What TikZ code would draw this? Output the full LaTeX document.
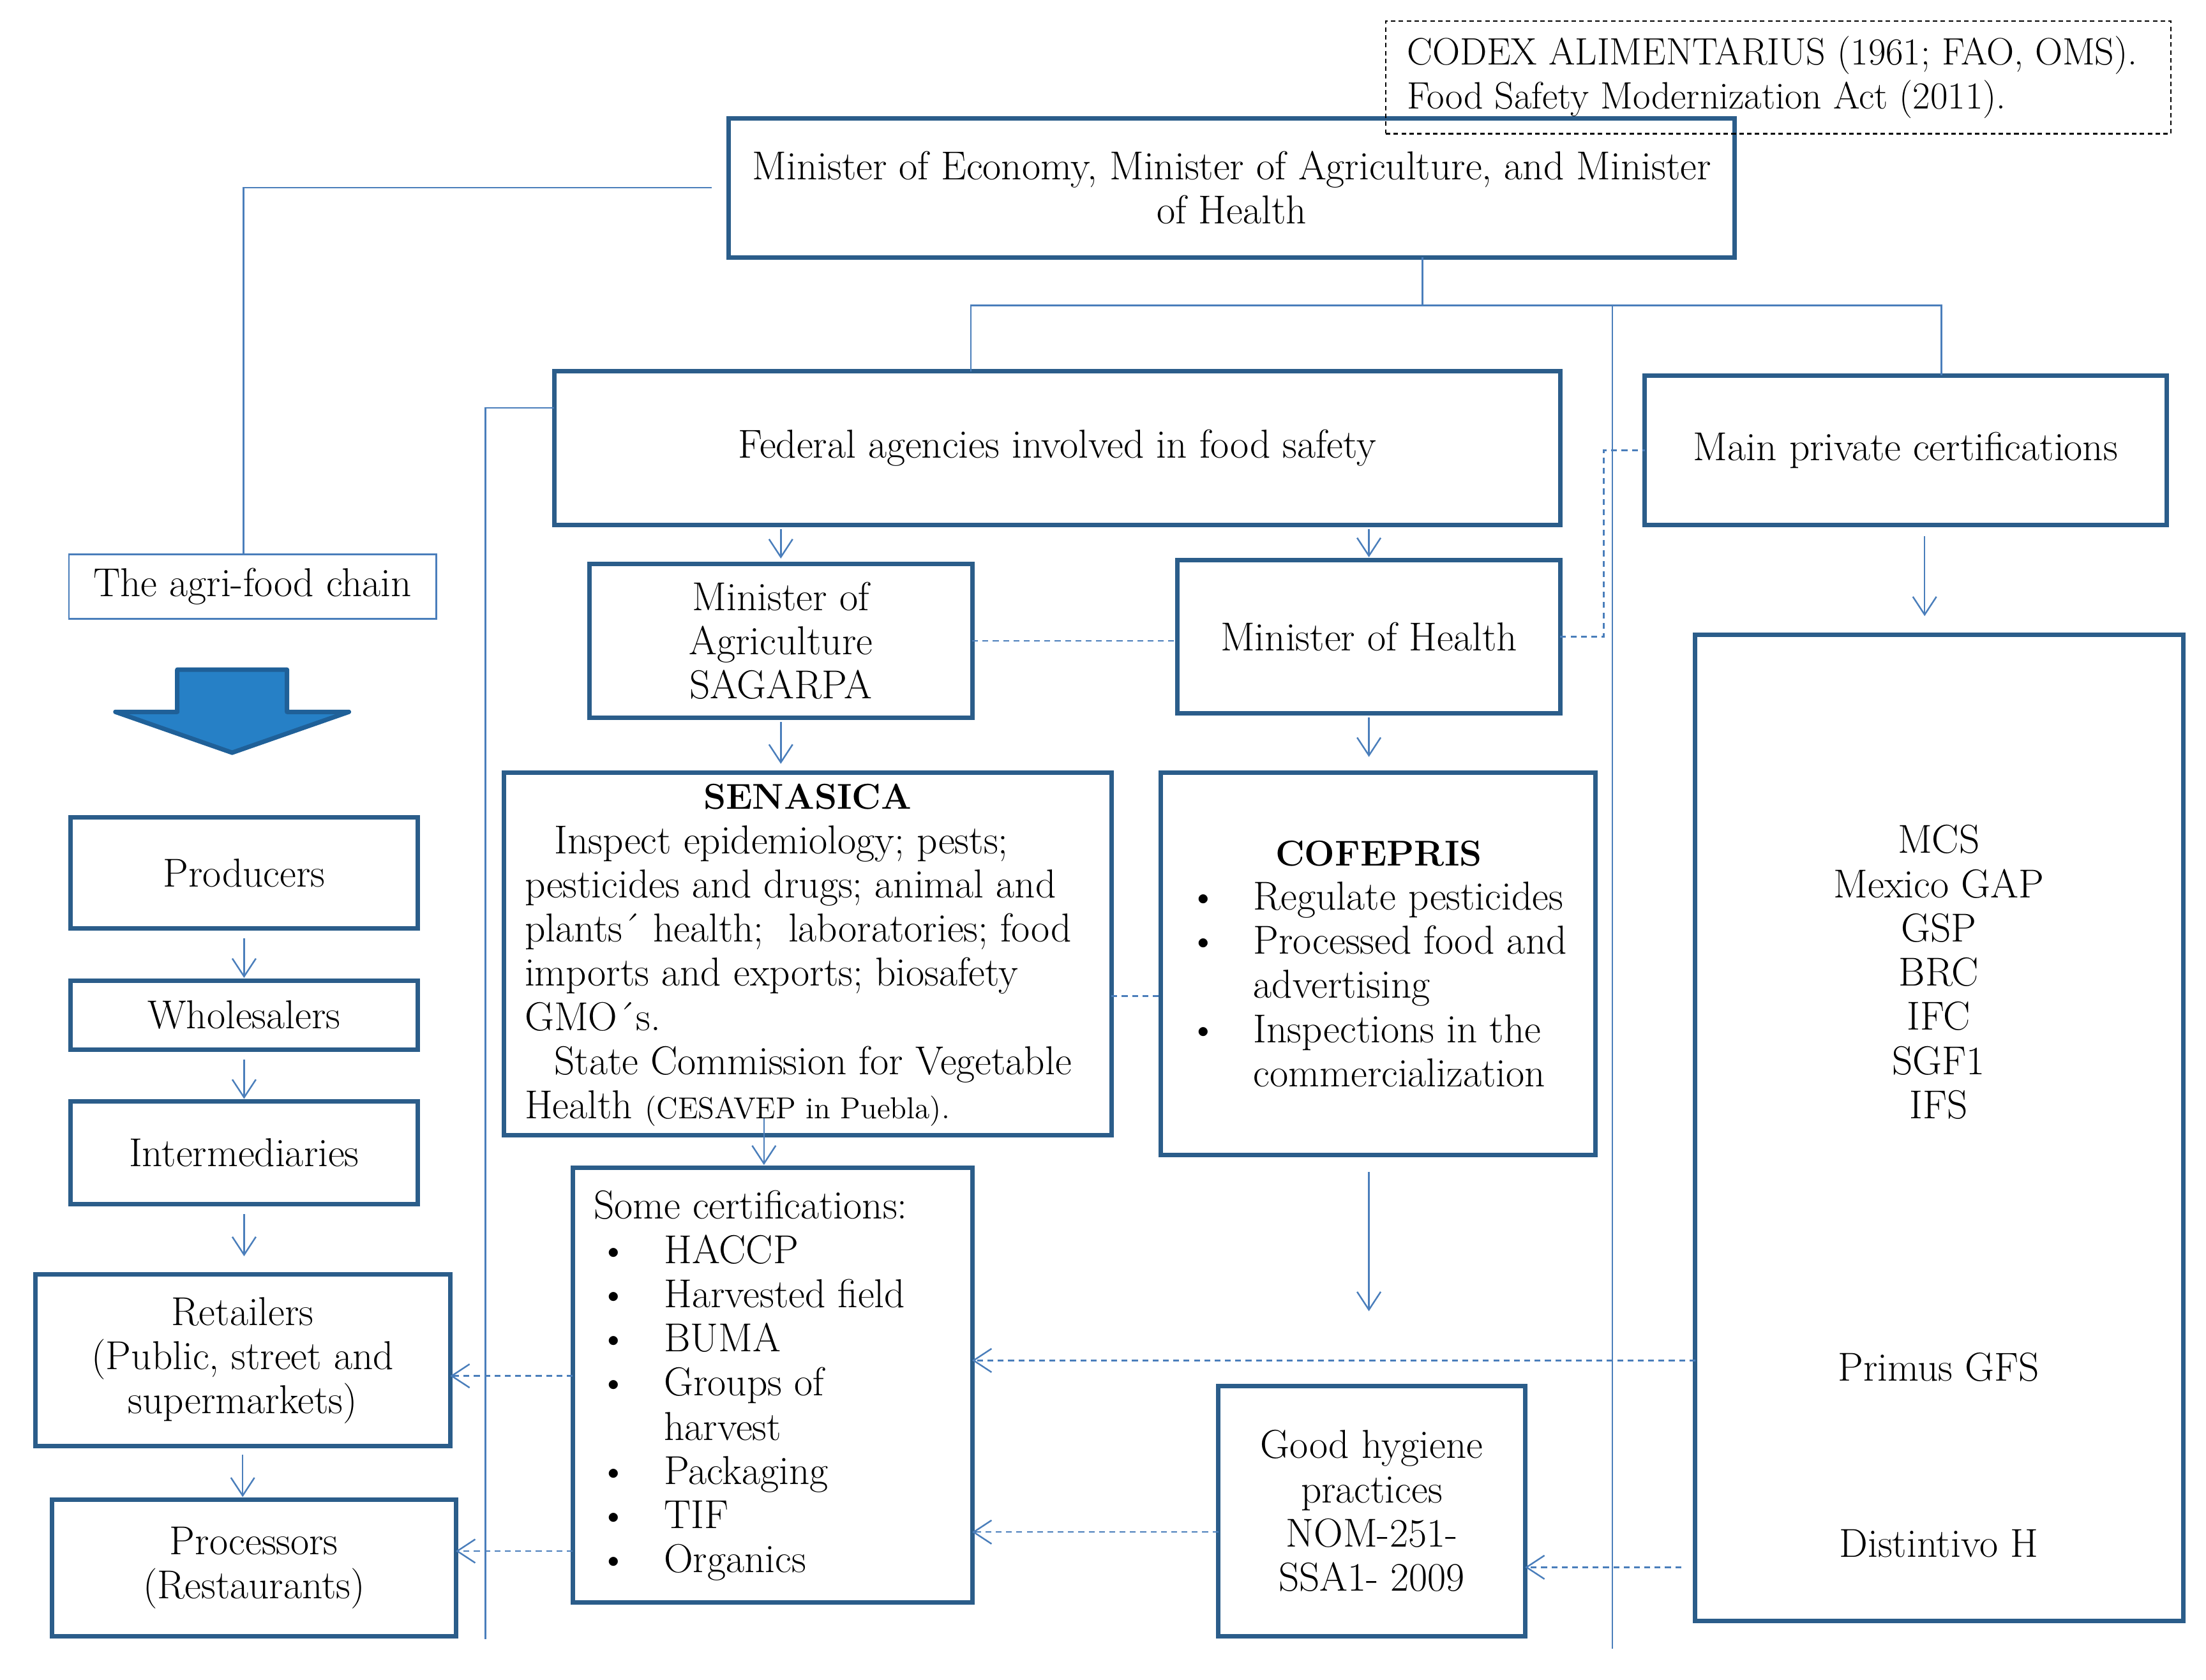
\documentclass[tikz,border=0pt]{standalone}
\usepackage{fontspec}
\usetikzlibrary{arrows.meta,calc}
\newlength\upx \setlength\upx{0.02204cm}
\definecolor{boxblue}{RGB}{43,93,138}
\definecolor{lineblue}{RGB}{74,126,187}
\definecolor{arrfill}{RGB}{38,128,198}
\definecolor{arrdraw}{RGB}{31,96,152}
\newcommand\mybox[7][]{\node[tbox,#1,minimum width={(#5-#3)*0.02204cm},minimum height={(#6-#4)*0.02204cm}] (#2) at ({(#3+#5)/2},{(#4+#6)/2}) {#7};}
\newcommand\ttlfont{\fontsize{16}{19.7}\selectfont\bfseries}
\begin{document}
\begin{tikzpicture}[x=0.02204cm, y=-0.02204cm,
  every node/.style={font=\fontsize{18}{19.7}\selectfont, inner sep=0pt, outer sep=0pt},
  tbox/.style={draw=boxblue, line width=2pt, align=center},
  thinbox/.style={draw=lineblue, line width=0.8pt, align=center},
  codexbox/.style={draw=black, line width=0.8pt, dash pattern=on 2pt off 1.5pt},
  conn/.style={draw=lineblue, line width=0.7pt},
  arr/.style={conn, -{Straight Barb[length=8pt,width=10.5pt]}},
  darr/.style={arr, dash pattern=on 2.6pt off 2pt},
  dline/.style={conn, dash pattern=on 2.6pt off 2pt}]
\useasboundingbox (0,0) rectangle (1568,1194);

% top level
\mybox{mec}{518}{84}{1233}{183}{Minister of Economy, Minister of Agriculture, and Minister\\of Health}
\mybox[codexbox]{codex}{985}{15}{1543}{95}{}
\node[anchor=west, align=left, font=\fontsize{17}{19.7}\selectfont] (codextxt) at (1000,55) {CODEX ALIMENTARIUS (1961; FAO, OMS).\\Food Safety Modernization Act (2011).};

% agri-food chain
\mybox[thinbox]{agri}{49}{394}{310}{440}{The agri-food chain}
\draw[fill=arrfill, draw=arrdraw, line width=2pt, line join=round] (126,476) -- (204,476) -- (204,506) -- (248,506) -- (165,535) -- (82,506) -- (126,506) -- cycle;
\mybox{prod}{50}{581}{297}{660}{Producers}
\mybox{whol}{50}{697}{297}{746}{Wholesalers}
\mybox{inter}{50}{783}{297}{856}{Intermediaries}
\mybox{ret}{25}{906}{320}{1028}{Retailers\\(Public, street and\\supermarkets)}
\mybox{proc}{37}{1066}{324}{1163}{Processors\\(Restaurants)}

% agencies
\mybox{fed}{394}{264}{1109}{373}{Federal agencies involved in food safety}
\mybox{mpc}{1169}{267}{1540}{373}{Main private certifications}
\mybox{magr}{419}{401}{691}{510}{Minister of\\Agriculture\\SAGARPA}
\mybox{mhea}{837}{398}{1109}{507}{Minister of Health}

\mybox{sen}{358}{549}{790}{807}{}
\node[anchor=west, align=left] (sentxt) at (373,679) {\makebox[402\upx][c]{\ttlfont SENASICA}\\
\hspace*{21\upx}Inspect epidemiology; pests;\\
pesticides and drugs; animal and\\
plants´ health;\ \ laboratories; food\\
imports and exports; biosafety\\
GMO´s.\\
\hspace*{21\upx}State Commission for Vegetable\\
Health {\fontsize{13.5}{19.7}\selectfont(CESAVEP in Puebla).}};

\mybox{cof}{825}{549}{1134}{821}{}
\node[anchor=west, align=left] (coftxt) at (845,685) {\makebox[270\upx][c]{\ttlfont COFEPRIS}\\
\makebox[46\upx][l]{\textbullet}Regulate pesticides\\
\makebox[46\upx][l]{\textbullet}Processed food and\\
\hspace*{46\upx}advertising\\
\makebox[46\upx][l]{\textbullet}Inspections in the\\
\hspace*{46\upx}commercialization};

\mybox{cert}{407}{830}{691}{1139}{}
\node[anchor=west, align=left] (certtxt) at (422,985) {Some certifications:\\
\hspace*{4\upx}\makebox[46\upx][l]{\textbullet}HACCP\\
\hspace*{4\upx}\makebox[46\upx][l]{\textbullet}Harvested field\\
\hspace*{4\upx}\makebox[46\upx][l]{\textbullet}BUMA\\
\hspace*{4\upx}\makebox[46\upx][l]{\textbullet}Groups of\\
\hspace*{50\upx}harvest\\
\hspace*{4\upx}\makebox[46\upx][l]{\textbullet}Packaging\\
\hspace*{4\upx}\makebox[46\upx][l]{\textbullet}TIF\\
\hspace*{4\upx}\makebox[46\upx][l]{\textbullet}Organics};

\mybox{pv}{1205}{451}{1552}{1152}{}
\node[align=center] (pvlist) at (1378,691) {MCS\\Mexico GAP\\GSP\\BRC\\IFC\\SGF1\\IFS};
\node (primus) at (1378,972) {Primus GFS};
\node (dist) at (1378,1097) {Distintivo H};

\mybox{gh}{866}{985}{1084}{1163}{Good hygiene\\practices\\NOM-251-\\SSA1- 2009}

% solid connectors
\coordinate (jc) at (1011,217);
\coordinate (jl) at (690,217);
\coordinate (jr) at (1380,217);
\coordinate (jv) at (1146,217);
\coordinate (vb) at (1146,1172);
\coordinate (lt) at (345,290);
\coordinate (lb) at (345,1165);
\draw[conn] ($(mec.west)+(-12,0)$) -| (173,0 |- agri.north);
\draw[conn] (jc |- mec.south) -- (jc);
\draw[conn] (jl |- fed.north) -- (jl) -- (jr) -- (jr |- mpc.north);
\draw[conn] (jv) -- (vb);
\draw[conn] (lt -| fed.west) -- (lt) -- (lb);

% arrows
\draw[arr, shorten <=4.4pt, shorten >=1.2pt] (prod.south) -- (whol.north);
\draw[arr, shorten <=4.4pt, shorten >=1.2pt] (whol.south) -- (inter.north);
\draw[arr, shorten <=4.4pt, shorten >=8.2pt] (inter.south) -- (inter.south |- ret.north);
\draw[arr, shorten <=3.8pt, shorten >=1.2pt] (ret.south) -- (ret.south |- proc.north);
\draw[arr, shorten <=1.9pt, shorten >=2.5pt] (fed.south -| magr) -- (magr.north);
\draw[arr, shorten <=1.9pt, shorten >=1.2pt] (fed.south -| mhea) -- (mhea.north);
\draw[arr, shorten <=1.9pt, shorten >=3.8pt] (magr.south) -- (magr.south |- sen.north);
\draw[arr, shorten <=1.9pt, shorten >=6.9pt] (mhea.south) -- (mhea.south |- cof.north);
\draw[arr, shorten <=-7.5pt, shorten >=1.2pt] (543,0 |- sen.south) -- (543,0 |- cert.north);
\coordinate (cofend) at (973,932);
\draw[arr, shorten <=7.5pt] (cof.south -| cofend) -- (cofend);
\draw[arr, shorten <=5pt, shorten >=8.2pt] (1368,0 |- mpc.south) -- (1368,0 |- pv.north);

% dashed links
\draw[dline] (magr.east) -- (magr.east -| mhea.west);
\draw[dline] (mhea.east) -- ++(31,0) |- (mpc.west);
\coordinate (sc) at ($(sen.east)+(0,30)$);
\draw[dline] (sc) -- (sc -| cof.west);
\coordinate (r1) at ($(ret.east)+(0,11)$);
\draw[darr] (r1 -| cert.west) -- (r1);
\coordinate (p1) at ($(proc.east)+(0,-12)$);
\draw[darr] (p1 -| cert.west) -- (p1);
\coordinate (q1) at ($(cert.east)+(0,-17.5)$);
\draw[darr] (q1 -| pv.west) -- (q1);
\coordinate (g1) at ($(gh.east)+(0,40)$);
\draw[darr, shorten <=6.3pt] (g1 -| pv.west) -- (g1);
\coordinate (g2) at ($(gh.west)+(0,15)$);
\draw[darr] (g2) -- (g2 -| cert.east);
\end{tikzpicture}
\end{document}
